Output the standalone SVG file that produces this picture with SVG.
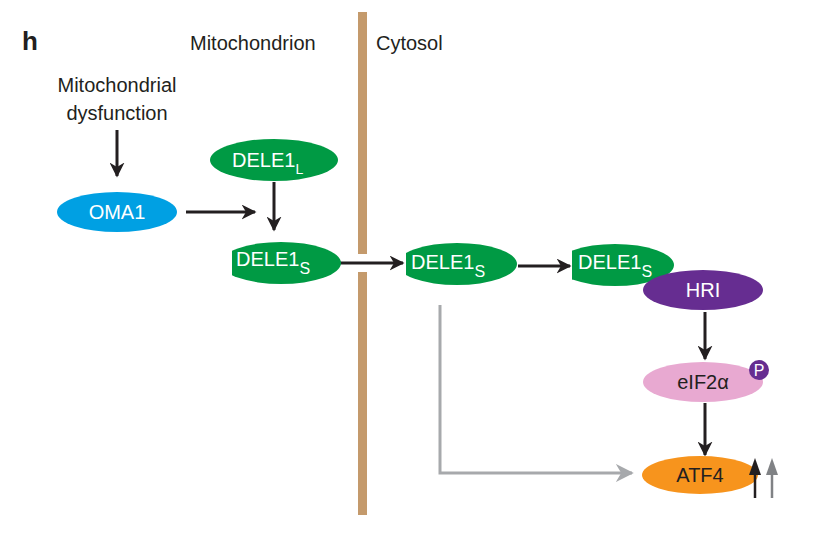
<svg xmlns="http://www.w3.org/2000/svg" width="825" height="536" viewBox="0 0 825 536">
<defs>
<style>
text{font-family:"Liberation Sans",Arial,sans-serif;font-size:20px}
.w{fill:#fff}
.k{fill:#231f20}
.g{fill:#009a44}
.ln{stroke:#231f20;stroke-width:3;fill:none}
</style>
<marker id="a" viewBox="0 0 10 10" refX="9" refY="5" markerWidth="5" markerHeight="5" orient="auto"><path d="M0,0L10,5L0,10L3,5Z" fill="#231f20"/></marker>
<marker id="ag" viewBox="0 0 10 10" refX="9" refY="5" markerWidth="6" markerHeight="6" orient="auto"><path d="M0,0L10,5L0,10L3,5Z" fill="#a7a9ac"/></marker>
<clipPath id="c1"><rect x="232" y="200" width="200" height="100"/></clipPath>
<clipPath id="c2"><rect x="406" y="200" width="200" height="100"/></clipPath>
<clipPath id="c3"><rect x="572" y="200" width="200" height="100"/></clipPath>
</defs>
<rect width="825" height="536" fill="#fff"/>
<text x="22" y="50" style="font-weight:bold;font-size:26px" class="k">h</text>
<text x="190" y="50" class="k">Mitochondrion</text>
<text x="376" y="50" class="k">Cytosol</text>
<text x="117" y="92" text-anchor="middle" class="k">Mitochondrial</text>
<text x="117" y="120" text-anchor="middle" class="k">dysfunction</text>
<g id="membrane" fill="#c49a6c"><rect x="358" y="12" width="9" height="242"/><rect x="358" y="272" width="9" height="243"/></g>
<g id="connectors">
<line class="ln" x1="117" y1="130" x2="117" y2="176" marker-end="url(#a)"/>
<line class="ln" x1="186" y1="212" x2="255" y2="212" marker-end="url(#a)"/>
<line class="ln" x1="274" y1="182" x2="274" y2="230" marker-end="url(#a)"/>
<line class="ln" x1="340" y1="263" x2="403" y2="263" marker-end="url(#a)"/>
<line class="ln" x1="518" y1="266" x2="570" y2="266" marker-end="url(#a)"/>
<line class="ln" x1="705" y1="312" x2="705" y2="359" marker-end="url(#a)"/>
<line class="ln" x1="705" y1="403" x2="705" y2="455" marker-end="url(#a)"/>
<path d="M440,305V473H632" stroke="#a7a9ac" stroke-width="3" fill="none" marker-end="url(#ag)"/>
</g>
<g id="OMA1"><ellipse cx="117" cy="212" rx="60" ry="20" fill="#00a0e3"/><text x="117" y="219" text-anchor="middle" class="w">OMA1</text></g>
<g id="DELE1L"><ellipse cx="274" cy="160" rx="64" ry="21" class="g"/><text x="232" y="167" class="w">DELE1<tspan font-size="14" dy="7">L</tspan></text></g>
<g id="DELE1S1"><ellipse cx="281" cy="263" rx="60" ry="21" class="g" clip-path="url(#c1)"/><text x="236" y="266" class="w">DELE1<tspan font-size="16" dy="8">S</tspan></text></g>
<g id="DELE1S2"><ellipse cx="457" cy="264" rx="60" ry="21" class="g" clip-path="url(#c2)"/><text x="411" y="269" class="w">DELE1<tspan font-size="16" dy="8">S</tspan></text></g>
<g id="DELE1S3"><ellipse cx="615" cy="265" rx="59" ry="21" class="g" clip-path="url(#c3)"/><text x="578" y="269" class="w">DELE1<tspan font-size="16" dy="8">S</tspan></text></g>
<g id="HRI"><ellipse cx="703" cy="290" rx="60" ry="20" fill="#662d91"/><text x="703" y="297" text-anchor="middle" class="w">HRI</text></g>
<g id="eIF2a"><ellipse cx="703" cy="382" rx="60" ry="20" fill="#e8a9d1"/><text x="703" y="389" text-anchor="middle" class="k">eIF2α</text>
<circle cx="759" cy="370" r="10" fill="#662d91"/><text x="759" y="376" text-anchor="middle" class="w" style="font-size:16px">P</text></g>
<g id="ATF4"><ellipse cx="700" cy="475" rx="58" ry="19" fill="#f7941d"/><text x="700" y="482" text-anchor="middle" class="k">ATF4</text>
<path d="M755,498V468" stroke="#231f20" stroke-width="2.5"/><path d="M755,458L749,475H761Z" fill="#231f20"/>
<path d="M772,498V468" stroke="#808285" stroke-width="2.5"/><path d="M772,458L766,475H778Z" fill="#808285"/></g>
</svg>
